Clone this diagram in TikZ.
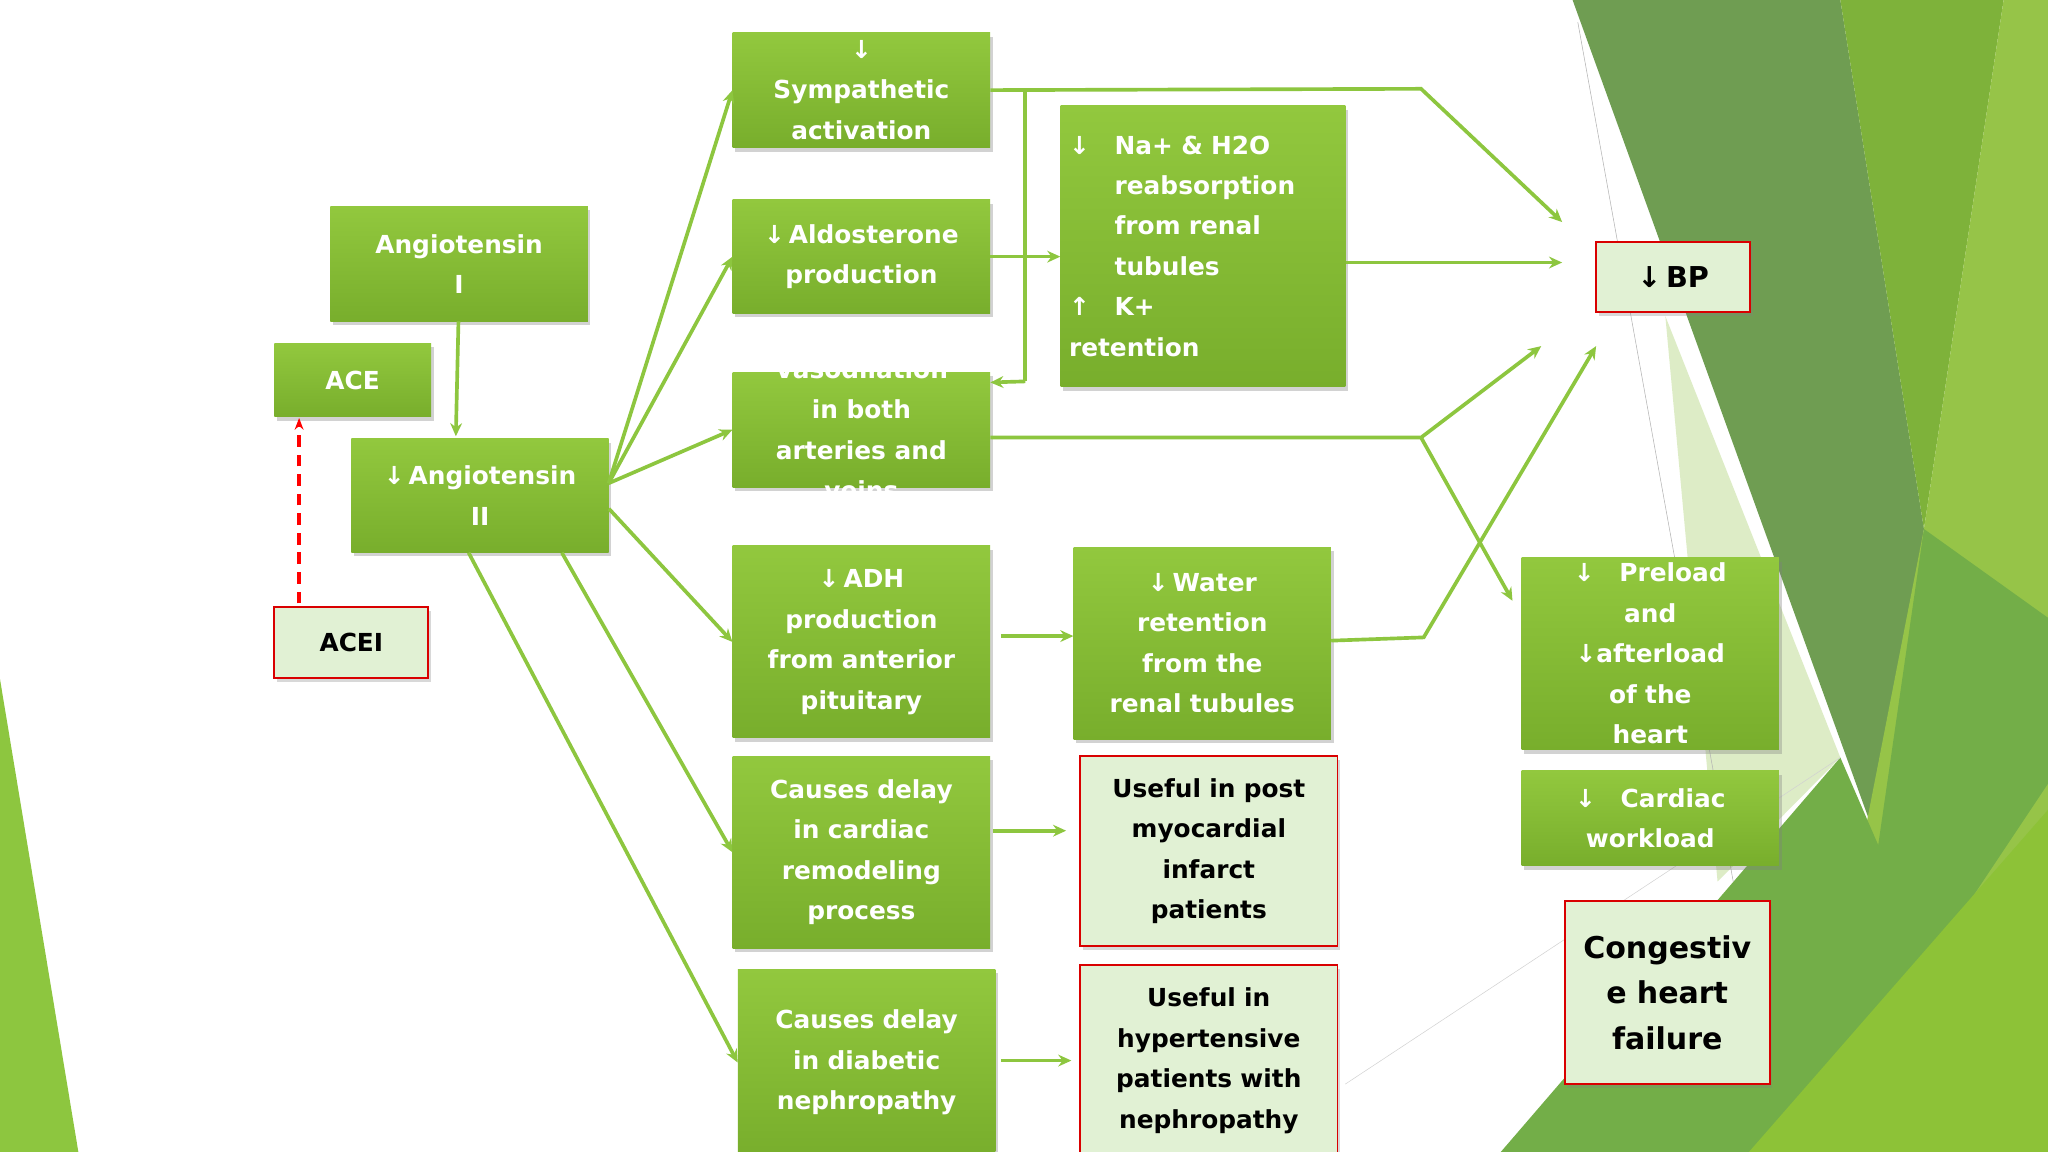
\documentclass[tikz,border=0pt]{standalone}
\usepackage{fontspec}
\setmainfont{DejaVu Sans}
\newcommand{\dn}{↓}
\newcommand{\up}{↑}
\usetikzlibrary{arrows.meta,shadows}
\definecolor{gA}{HTML}{92C83E}
\definecolor{gB}{HTML}{78AE2C}
\definecolor{pale}{HTML}{E1F1D4}
\definecolor{lg}{HTML}{8DC63F}
\definecolor{bgA}{RGB}{111,157,82}
\definecolor{bgB}{RGB}{126,178,58}
\definecolor{bgC}{RGB}{150,196,72}
\definecolor{bgD}{RGB}{213,232,184}
\definecolor{bgE}{RGB}{115,174,72}
\definecolor{bgF}{RGB}{141,194,55}
\tikzset{
 gbox/.style={draw=none,top color=gA,bottom color=gB,text=white,align=center,inner sep=2pt,
   font=\fontsize{19}{31}\selectfont\bfseries,drop shadow={shadow xshift=2pt,shadow yshift=-3pt,opacity=.35}},
 rbox/.style={draw=red!85!black,line width=1.5pt,fill=pale,text=black,align=center,inner sep=2pt,
   font=\fontsize{19}{31}\selectfont\bfseries,drop shadow={shadow xshift=2pt,shadow yshift=-3pt,opacity=.3}},
 ar/.style={draw=lg,line width=2.8pt,-{Stealth[length=10pt,width=9pt]}},
}
\newcommand{\bx}[7]{\node[#1,minimum width={#5-#3},minimum height={#6-#4},text width={#5-#3-8}] (#2) at ({(#3+#5)/2},{(#4+#6)/2}) {#7};}
\begin{document}
\begin{tikzpicture}[x=1pt,y=-1pt]
\useasboundingbox (0,0) rectangle (1568,882);
\fill[white] (0,0) rectangle (1568,882);
% background
\fill[lg] (0,520) -- (60,882) -- (0,882) -- cycle;
\fill[bgA] (1204,0) -- (1409,0) -- (1473,405) -- (1438,647) -- cycle;
\fill[bgB] (1409,0) -- (1534,0) -- (1473,405) -- cycle;
\fill[bgC] (1534,0) -- (1568,0) -- (1568,882) -- (1380,882) -- (1473,405) -- cycle;
\fill[bgD,opacity=.8] (1275,242) -- (1409,580) -- (1315,675) -- cycle;
\fill[bgE] (1149,882) -- (1409,580) -- (1438,647) -- (1473,405) -- (1568,473) -- (1568,600) -- (1380,882) -- cycle;
\fill[bgF] (1339,882) -- (1568,620) -- (1568,882) -- cycle;
\draw[gray!60] (1208,17) -- (1327,675);
\draw[gray!35] (1030,830) -- (1409,580);
% boxes
\bx{gbox}{sym}{561}{25}{758}{113}{\dn\\Sympathetic\\activation}
\bx{gbox}{ald}{561}{153}{758}{240}{\dn\,Aldosterone\\production}
\node[gbox,minimum width=197,minimum height=88] (vas) at (659.5,329) {};
\node[text=white,align=center,font=\fontsize{19}{31}\selectfont\bfseries] (vast) at (vas.center) {Vasodilation\\in both\\arteries and\\veins};
\bx{gbox}{adh}{561}{418}{758}{565}{\dn\,ADH\\production\\from anterior\\pituitary}
\bx{gbox}{rem}{561}{579}{758}{726}{Causes delay\\in cardiac\\remodeling\\process}
\bx{gbox}{dia}{565}{742}{762}{885}{Causes delay\\in diabetic\\nephropathy}
\bx{gbox}{a1}{253}{158}{450}{246}{Angiotensin\\I}
\bx{gbox}{ace}{210}{263}{330}{319}{ACE}
\bx{gbox}{a2}{269}{336}{466}{423}{\dn\,Angiotensin\\II}
\bx{rbox}{acei}{210}{465}{328}{519}{ACEI}
\node[gbox,minimum width=218,minimum height=215,text width=205,align=left] (na) at (921,188.5)
 {\dn\quad Na+ \& H2O\\\phantom{\dn\quad}reabsorption\\\phantom{\dn\quad}from renal\\\phantom{\dn\quad}tubules\\\up\quad K+\\retention};
\bx{gbox}{wat}{822}{419}{1019}{566}{\dn\,Water\\retention\\from the\\renal tubules}
\bx{rbox}{pmi}{827}{579}{1024}{724}{Useful in post\\myocardial\\infarct\\patients}
\bx{rbox}{hyp}{827}{739}{1024}{885}{Useful in\\hypertensive\\patients with\\nephropathy}
\node[rbox,minimum width=118,minimum height=54,font=\fontsize{22}{31}\selectfont\bfseries] (bp) at (1281,212) {\dn\,BP};
\bx{gbox}{pre}{1165}{427}{1362}{574}{\dn\quad Preload\\and\\\dn afterload\\of the\\heart}
\bx{gbox}{cw}{1165}{590}{1362}{663}{\dn\quad Cardiac\\workload}
\node[rbox,minimum width=157,minimum height=140,text width=150,font=\fontsize{23}{35}\selectfont\bfseries] (chf) at (1276.5,760) {Congestiv\\e heart\\failure};
% connectors
\coordinate (p1) at (1088,68); \coordinate (p2) at (1196,170);
\coordinate (p3) at (785,68); \coordinate (p4) at (785,292);
\coordinate (q1) at (1088,335); \coordinate (q2) at (1180,265); \coordinate (q3) at (1158,460);
\coordinate (w1) at (1090,488); \coordinate (w2) at (1222,265);
\coordinate (t1) at (1196,201);
\coordinate (a1b) at (351,246); \coordinate (a2t) at (349,334);
\draw[ar] (a1b) -- (a2t);
\coordinate (a2e) at (466,370);
\draw[ar] (a2e) -- (sym.west);
\draw[ar] (a2e) -- (ald.west);
\draw[ar] (a2e) -- (vas.west);
\draw[ar] ([yshift=-10pt]a2.east) -- (adh.west);
\draw[ar] ([xshift=-36pt]a2.south east) -- (rem.west);
\draw[ar] ([xshift=90pt]a2.south west) -- (dia.west);
\draw[red,line width=2.8pt,dash pattern=on 9pt off 6pt,-{Stealth[length=9pt]}] (229,462) -- (229,320);
\draw[ar] (sym.east) -- (p1) -- (p2);
\draw[ar,-] (p3) -- (p4);
\draw[ar] (p4) -- ([yshift=-8pt]vas.north east);
\draw[ar] (ald.east) -- (na.west |- ald.east);
\draw[ar] (na.east |- t1) -- (t1);
\draw[ar] (vas.east |- q1) -- (q1) -- (q2);
\draw[ar] (q1) -- (q3);
\draw[ar] ([xshift=8pt]adh.east |- 0,487) -- (wat.west |- 0,487);
\draw[ar] ([yshift=2pt]wat.east) -- (w1) -- (w2);
\draw[ar] ([xshift=2pt]rem.east |- 0,636) -- ([xshift=-10pt]pmi.west |- 0,636);
\draw[ar] ([xshift=4pt]dia.east |- 0,812) -- ([xshift=-6pt]hyp.west |- 0,812);
\end{tikzpicture}
\end{document}
